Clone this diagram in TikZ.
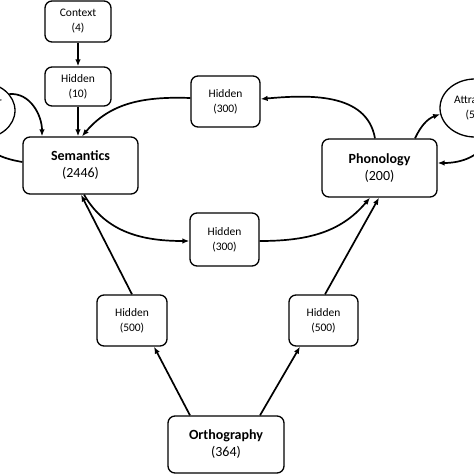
\documentclass[tikz,border=0pt]{standalone}
\usepackage{fontspec}
\setmainfont{Carlito}
\usetikzlibrary{arrows.meta,shapes.geometric}
\tikzset{
  box/.style={draw, line width=1.3pt, rounded corners=7pt, align=center, inner sep=0pt},
  small/.style={box, font=\fontsize{11.5}{15}\selectfont},
  big/.style={box, font=\fontsize{14}{17}\selectfont},
  attr/.style={draw, line width=1.3pt, ellipse, inner sep=0pt, align=center, font=\fontsize{11.5}{15}\selectfont},
  conn/.style={line width=1.7pt, -{Latex[length=7pt,width=5.5pt]}}
}
\begin{document}
\begin{tikzpicture}[x=1pt,y=1pt]
\useasboundingbox (0,0) rectangle (474,-474);
\begin{scope}
\clip (0,0) rectangle (474,-474);
% nodes
\node[small, minimum width=66pt, minimum height=41pt] (ctx) at (78,-21.5) {Context\\(4)};
\node[small, minimum width=66pt, minimum height=39pt] (h10) at (78,-86.5) {Hidden\\(10)};
\node[big, minimum width=115pt, minimum height=57pt] (sem) at (80.5,-165.5) {\textbf{Semantics}\\(2446)};
\node[small, minimum width=69pt, minimum height=51pt] (htop) at (225.5,-101.5) {Hidden\\(300)};
\node[big, minimum width=115pt, minimum height=58pt] (phon) at (379.5,-168) {\textbf{Phonology}\\(200)};
\node[small, minimum width=69pt, minimum height=53pt] (hmid) at (224.5,-239.5) {Hidden\\(300)};
\node[small, minimum width=70pt, minimum height=51pt] (h5L) at (132,-320.5) {Hidden\\(500)};
\node[small, minimum width=69pt, minimum height=51pt] (h5R) at (323.5,-320.5) {Hidden\\(500)};
\node[big, minimum width=116pt, minimum height=57pt] (orth) at (226,-444.5) {\textbf{Orthography}\\(364)};
\node[attr, minimum width=70pt, minimum height=58pt] (attrR) at (475,-108) {Attractor\\(50)};
\node[attr, minimum width=68pt, minimum height=56pt] (attrL) at (-19,-110.5) {Attractor\\(50)};
% connectors
\draw[conn] (ctx.south) -- (h10.north);
\draw[conn] (h10.south) -- (h10.south |- sem.north);
\draw[conn] ([yshift=3.5pt]htop.west) to[out=178, in=50] ([xshift=1.5pt]sem.north);
\draw[conn] ([xshift=-4.5pt]phon.north) to[out=100, in=5] ([yshift=2.5pt]htop.east);
\draw[conn] ([xshift=3.5pt]sem.south) to[out=-60, in=180] ([yshift=-1.5pt]hmid.west);
\draw[conn] ([yshift=-1.5pt]hmid.east) to[out=0, in=-130] ([xshift=-9.5pt]phon.south);
\draw[conn] (h5L.north) -- ([xshift=0.5pt]sem.south);
\draw[conn] ([xshift=-36pt]orth.north) -- ([xshift=22pt]h5L.south);
\draw[conn] ([xshift=34pt]orth.north) -- ([xshift=-23.5pt]h5R.south);
\draw[conn] ([xshift=1.5pt]h5R.north) -- ([xshift=-0.5pt]phon.south);
\draw[conn] ([xshift=35.5pt]phon.north) to[out=65, in=200] (attrR.190);
\draw[conn] (attrR.-60) to[out=-110, in=0] ([yshift=5pt]phon.east);
\draw[conn] (attrL.30) to[out=5, in=90] ([xshift=-38.5pt]sem.north);
\draw[conn] ([yshift=3.5pt]sem.west) to[out=170, in=-70] (attrL.-80);
\end{scope}
\end{tikzpicture}
\end{document}
